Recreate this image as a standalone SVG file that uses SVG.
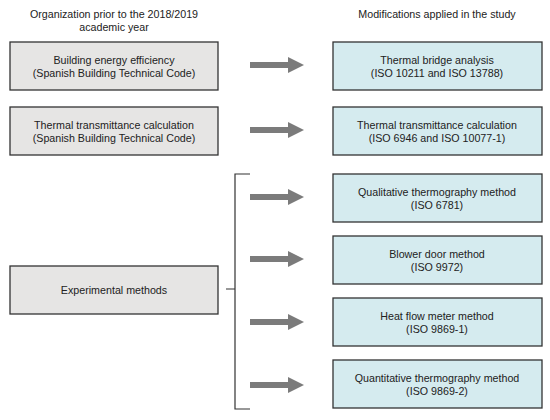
<svg xmlns="http://www.w3.org/2000/svg" width="550" height="420" viewBox="0 0 550 420">
<defs>
<style>
text{font-family:"Liberation Sans",Arial,sans-serif;font-size:10.7px;fill:#222;text-anchor:middle}
.l{fill:#e6e5e4;stroke:#333;stroke-width:1.3}
.r{fill:#d5ebef;stroke:#333;stroke-width:1.3}
.br{fill:none;stroke:#333;stroke-width:1.2}
.ar{fill:#7b7b7b}
</style>
<path id="arr" class="ar" d="M0,-3 H38 V-8 L54,0 L38,8 V3 H0 Z"/>
</defs>
<rect width="550" height="420" fill="#fff"/>
<text x="114" y="18">Organization prior to the 2018/2019</text>
<text x="114" y="31">academic year</text>
<text x="437" y="18">Modifications applied in the study</text>

<g id="left1"><rect class="l" x="10" y="42" width="208" height="48"/><text x="114" y="63.5">Building energy efficiency</text><text x="114" y="76.5">(Spanish Building Technical Code)</text></g>
<g id="left2"><rect class="l" x="10" y="107" width="208" height="48"/><text x="114" y="128.5">Thermal transmittance calculation</text><text x="114" y="141.5">(Spanish Building Technical Code)</text></g>
<g id="left3"><rect class="l" x="10" y="266" width="208" height="48"/><text x="114" y="293.5">Experimental methods</text></g>

<g id="right1"><rect class="r" x="333" y="42" width="209" height="48"/><text x="437" y="63.5">Thermal bridge analysis</text><text x="437" y="76.5">(ISO 10211 and ISO 13788)</text></g>
<g id="right2"><rect class="r" x="333" y="107" width="209" height="48"/><text x="437" y="128.5">Thermal transmittance calculation</text><text x="437" y="141.5">(ISO 6946 and ISO 10077-1)</text></g>
<g id="right3"><rect class="r" x="333" y="174" width="209" height="48"/><text x="437" y="195.5">Qualitative thermography method</text><text x="437" y="208.5">(ISO 6781)</text></g>
<g id="right4"><rect class="r" x="333" y="236" width="209" height="48"/><text x="437" y="257.5">Blower door method</text><text x="437" y="270.5">(ISO 9972)</text></g>
<g id="right5"><rect class="r" x="333" y="298" width="209" height="48"/><text x="437" y="319.5">Heat flow meter method</text><text x="437" y="332.5">(ISO 9869-1)</text></g>
<g id="right6"><rect class="r" x="333" y="360" width="209" height="48"/><text x="437" y="381.5">Quantitative thermography method</text><text x="437" y="394.5">(ISO 9869-2)</text></g>

<g id="connectors">
<use href="#arr" x="250" y="65"/>
<use href="#arr" x="250" y="130"/>
<use href="#arr" x="250" y="197"/>
<use href="#arr" x="250" y="259"/>
<use href="#arr" x="250" y="322"/>
<use href="#arr" x="250" y="385"/>
<path class="br" d="M250,174 H235 V409 H250 M226,289 H235"/>
</g>
</svg>
